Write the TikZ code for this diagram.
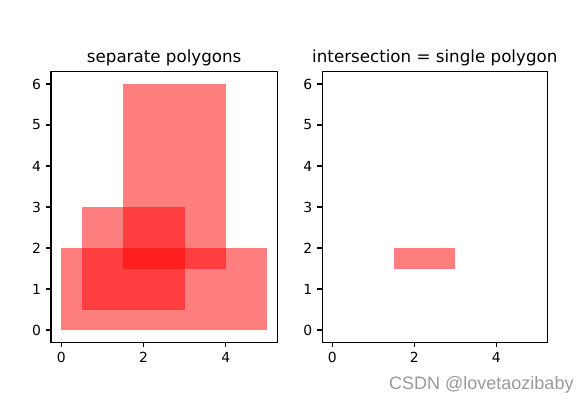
\documentclass[tikz,border=0pt]{standalone}
\usepackage{fontspec}
\setmainfont{DejaVu Sans}
\newfontfamily\wmfont{Liberation Sans}
\begin{document}
\begin{tikzpicture}[x=1pt,y=1pt,
  spine/.style={draw=black,line width=1.1pt},
  tk/.style={line width=1.1pt},
  ticklab/.style={inner sep=0pt,font=\fontsize{13.9}{15}\selectfont},
  ttl/.style={inner sep=0pt,anchor=base,font=\fontsize{16.7}{18}\selectfont},
  poly/.style={fill=red,fill opacity=0.5,draw=none}]
\useasboundingbox (0,0) rectangle (585,397);
% ---------- left axes ----------
\begin{scope}[shift={(61.3,67)},x=41.15pt,y=41pt]
  \fill[poly] (0,0) rectangle (5,2);
  \fill[poly] (0.5,0.5) rectangle (3,3);
  \fill[poly] (1.5,1.5) rectangle (4,6);
  \draw[spine] (-0.25,-0.3) rectangle (5.25,6.3);
  \foreach \v in {0,...,6}{
    \draw[tk] (-0.25,\v) -- ++(-4.9pt,0);
    \node[ticklab,anchor=east] (ly\v) at ([xshift=-9.8pt]-0.25,\v) {\v};
  }
  \foreach \v in {0,2,4}{
    \draw[tk] (\v,-0.3) -- ++(0,-4.9pt);
    \node[ticklab,anchor=base] (lx\v) at ([yshift=-20.6pt]\v,-0.3) {\v};
  }
  \node[ttl] (t1) at ([yshift=8.8pt]2.5,6.3) {separate polygons};
\end{scope}
% ---------- right axes ----------
\begin{scope}[shift={(332.3,67)},x=41.0pt,y=41pt]
  \fill[poly] (1.5,1.5) rectangle (3,2);
  \draw[spine] (-0.245,-0.3) rectangle (5.245,6.3);
  \foreach \v in {0,...,6}{
    \draw[tk] (-0.245,\v) -- ++(-4.9pt,0);
    \node[ticklab,anchor=east] (ry\v) at ([xshift=-9.8pt]-0.245,\v) {\v};
  }
  \foreach \v in {0,2,4}{
    \draw[tk] (\v,-0.3) -- ++(0,-4.9pt);
    \node[ticklab,anchor=base] (rx\v) at ([yshift=-20.6pt]\v,-0.3) {\v};
  }
  \node[ttl] (t2) at ([yshift=8.8pt]2.5,6.3) {intersection = single polygon};
\end{scope}
% ---------- watermark ----------
\node[inner sep=0pt,anchor=base west,text=black!40,font=\wmfont\fontsize{18}{20}\selectfont] (wm) at (389,8) {CSDN @lovetaozibaby};
\end{tikzpicture}
\end{document}
